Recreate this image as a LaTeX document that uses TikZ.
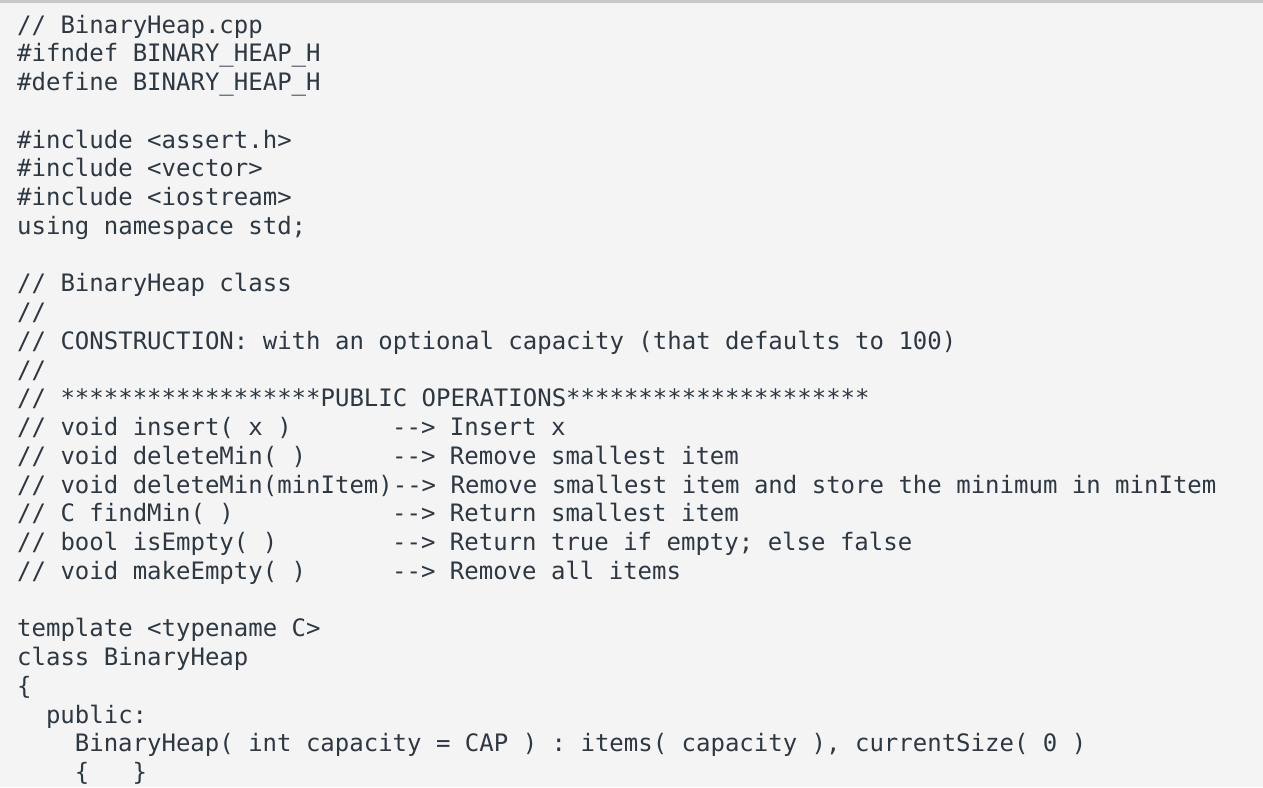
\documentclass[tikz,border=0pt]{standalone}
\usepackage{fontspec}
\setmonofont{DejaVu Sans Mono}
\definecolor{bgc}{HTML}{F4F4F4}
\definecolor{txt}{HTML}{2E3842}
\definecolor{rule}{HTML}{C8C8C8}
\begin{document}
\begin{tikzpicture}[x=1pt,y=1pt,
  code/.style={anchor=base west,inner sep=0pt,text=txt,font=\ttfamily\fontsize{24}{28}\selectfont}]
\fill[bgc] (0,0) rectangle (1263,-787);
\useasboundingbox (0,0) rectangle (1263,-787);
\fill[rule] (0,0) rectangle (1263,-3);
\def\cw{14.42}
\def\ln{28.75}
\newcommand\cl[3]{\node[code] (n#1x#2) at ({17+#2*\cw},{-33-(#1-1)*\ln}) {#3};}
\cl{1}{0}{// BinaryHeap.cpp}
\cl{2}{0}{\#ifndef BINARY\_HEAP\_H}
\cl{3}{0}{\#define BINARY\_HEAP\_H}
\cl{5}{0}{\#include <assert.h>}
\cl{6}{0}{\#include <vector>}
\cl{7}{0}{\#include <iostream>}
\cl{8}{0}{using namespace std;}
\cl{10}{0}{// BinaryHeap class}
\cl{11}{0}{//}
\cl{12}{0}{// CONSTRUCTION: with an optional capacity (that defaults to 100)}
\cl{13}{0}{//}
\cl{14}{0}{// ******************PUBLIC OPERATIONS*********************}
\cl{15}{0}{// void insert( x )}
\cl{15}{26}{--> Insert x}
\cl{16}{0}{// void deleteMin( )}
\cl{16}{26}{--> Remove smallest item}
\cl{17}{0}{// void deleteMin(minItem)--> Remove smallest item and store the minimum in minItem}
\cl{18}{0}{// C findMin( )}
\cl{18}{26}{--> Return smallest item}
\cl{19}{0}{// bool isEmpty( )}
\cl{19}{26}{--> Return true if empty; else false}
\cl{20}{0}{// void makeEmpty( )}
\cl{20}{26}{--> Remove all items}
\cl{22}{0}{template <typename C>}
\cl{23}{0}{class BinaryHeap}
\cl{24}{0}{\{}
\cl{25}{2}{public:}
\cl{26}{4}{BinaryHeap( int capacity = CAP ) : items( capacity ), currentSize( 0 )}
\cl{27}{4}{\{}
\cl{27}{8}{\}}
\end{tikzpicture}
\end{document}
